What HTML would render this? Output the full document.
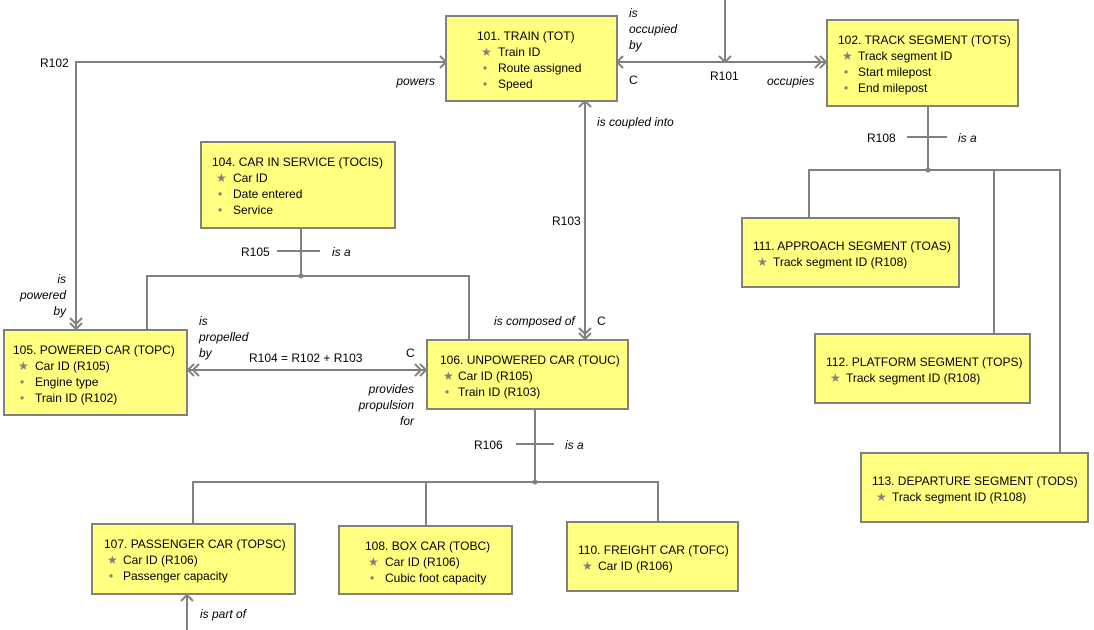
<!DOCTYPE html>
<html><head><meta charset="utf-8"><style>
html,body{margin:0;padding:0;background:#fff;}
svg{display:block;font-family:"Liberation Sans",sans-serif;font-size:12px;}
.b{fill:#ffff80;stroke:#808080;stroke-width:2;}
.l{stroke:#808080;stroke-width:2;fill:none;}
.i{font-style:italic;}
.s{fill:#808080;}
</style></head><body>
<svg width="1094" height="630" viewBox="0 0 1094 630" xmlns="http://www.w3.org/2000/svg">
<!-- connectors -->
<g class="l">
<!-- R102 -->
<polyline points="446,62 76,62 76,330"/>
<polyline points="440,56 446,62 440,68"/>
<polyline points="70,318 76,324 82,318"/><polyline points="70,323 76,329 82,323"/>
<!-- R101 -->
<line x1="725" y1="0" x2="725" y2="62"/>
<polyline points="719,56 725,62 731,56"/>
<line x1="617" y1="62" x2="827" y2="62"/>
<polyline points="623,56 617,62 623,68"/>
<polyline points="815,56 821,62 815,68"/><polyline points="820,56 826,62 820,68"/>
<!-- R103 -->
<line x1="585" y1="101" x2="585" y2="340"/>
<polyline points="579,107 585,101 591,107"/>
<polyline points="579,328 585,334 591,328"/><polyline points="579,333 585,339 591,333"/>
<!-- R104 -->
<line x1="187" y1="370" x2="427" y2="370"/>
<polyline points="199,364 193,370 199,376"/><polyline points="194,364 188,370 194,376"/>
<polyline points="415,364 421,370 415,376"/><polyline points="420,364 426,370 420,376"/>
<!-- R105 -->
<line x1="301" y1="228" x2="301" y2="276"/>
<line x1="277" y1="251" x2="320" y2="251"/>
<polyline points="147,330 147,276 469,276 469,340"/>
<!-- R106 -->
<line x1="535" y1="409" x2="535" y2="482"/>
<line x1="516" y1="444" x2="554" y2="444"/>
<polyline points="193,523 193,482 658,482 658,522"/>
<line x1="426" y1="482" x2="426" y2="526"/>
<!-- R108 -->
<line x1="928" y1="106" x2="928" y2="170"/>
<line x1="907" y1="137" x2="947" y2="137"/>
<polyline points="809,218 809,170 1060,170 1060,453"/>
<line x1="994" y1="170" x2="994" y2="334"/>
<!-- bottom -->
<line x1="187" y1="630" x2="187" y2="594"/>
<polyline points="181,601 187,595 193,601"/>
</g>
<circle class="s" cx="301" cy="276" r="2.5"/>
<circle class="s" cx="535" cy="482" r="2.5"/>
<circle class="s" cx="928" cy="170" r="2.5"/>

<!-- boxes -->
<rect class="b" x="446" y="16" width="171" height="85"/>
<rect class="b" x="827" y="20" width="191" height="86"/>
<rect class="b" x="201" y="142" width="194" height="86"/>
<rect class="b" x="4" y="330" width="183" height="85"/>
<rect class="b" x="427" y="340" width="201" height="69"/>
<rect class="b" x="92" y="524" width="203" height="70"/>
<rect class="b" x="339" y="526" width="173" height="68"/>
<rect class="b" x="567" y="522" width="171" height="69"/>
<rect class="b" x="742" y="218" width="217" height="69"/>
<rect class="b" x="815" y="334" width="215" height="69"/>
<rect class="b" x="861" y="453" width="227" height="69"/>

<g>
<text x="477" y="40">101. TRAIN (TOT)</text>
<text x="481" y="56" class="s">★</text><text x="498" y="56">Train ID</text>
<text x="483" y="72" class="s">•</text><text x="498" y="72">Route assigned</text>
<text x="483" y="88" class="s">•</text><text x="498" y="88">Speed</text>

<text x="838" y="44">102. TRACK SEGMENT (TOTS)</text>
<text x="842" y="60" class="s">★</text><text x="858" y="60">Track segment ID</text>
<text x="844" y="76" class="s">•</text><text x="858" y="76">Start milepost</text>
<text x="844" y="92" class="s">•</text><text x="858" y="92">End milepost</text>

<text x="212" y="166">104. CAR IN SERVICE (TOCIS)</text>
<text x="216" y="182" class="s">★</text><text x="233" y="182">Car ID</text>
<text x="218" y="198" class="s">•</text><text x="233" y="198">Date entered</text>
<text x="218" y="214" class="s">•</text><text x="233" y="214">Service</text>

<text x="13" y="354">105. POWERED CAR (TOPC)</text>
<text x="18" y="370" class="s">★</text><text x="35" y="370">Car ID (R105)</text>
<text x="20" y="386" class="s">•</text><text x="35" y="386">Engine type</text>
<text x="20" y="402" class="s">•</text><text x="35" y="402">Train ID (R102)</text>

<text x="440" y="364">106. UNPOWERED CAR (TOUC)</text>
<text x="443" y="380" class="s">★</text><text x="458" y="380">Car ID (R105)</text>
<text x="445" y="396" class="s">•</text><text x="458" y="396">Train ID (R103)</text>

<text x="104" y="548">107. PASSENGER CAR (TOPSC)</text>
<text x="107" y="564" class="s">★</text><text x="123" y="564">Car ID (R106)</text>
<text x="109" y="580" class="s">•</text><text x="123" y="580">Passenger capacity</text>

<text x="365" y="550">108. BOX CAR (TOBC)</text>
<text x="368" y="566" class="s">★</text><text x="385" y="566">Car ID (R106)</text>
<text x="370" y="582" class="s">•</text><text x="385" y="582">Cubic foot capacity</text>

<text x="578" y="554">110. FREIGHT CAR (TOFC)</text>
<text x="582" y="570" class="s">★</text><text x="598" y="570">Car ID (R106)</text>

<text x="753" y="250">111. APPROACH SEGMENT (TOAS)</text>
<text x="757" y="266" class="s">★</text><text x="773" y="266">Track segment ID (R108)</text>

<text x="826" y="366">112. PLATFORM SEGMENT (TOPS)</text>
<text x="830" y="382" class="s">★</text><text x="846" y="382">Track segment ID (R108)</text>

<text x="872" y="485">113. DEPARTURE SEGMENT (TODS)</text>
<text x="876" y="501" class="s">★</text><text x="892" y="501">Track segment ID (R108)</text>
</g>

<!-- labels -->
<g>
<text x="40" y="67">R102</text>
<text x="435" y="85" class="i" text-anchor="end">powers</text>
<text x="66" y="283" class="i" text-anchor="end">is</text>
<text x="66" y="299" class="i" text-anchor="end">powered</text>
<text x="66" y="315" class="i" text-anchor="end">by</text>
<text x="629" y="17" class="i">is</text>
<text x="629" y="33" class="i">occupied</text>
<text x="629" y="49" class="i">by</text>
<text x="629" y="84">C</text>
<text x="710" y="80">R101</text>
<text x="767" y="85" class="i">occupies</text>
<text x="597" y="126" class="i">is coupled into</text>
<text x="552" y="225">R103</text>
<text x="494" y="325" class="i">is composed of</text>
<text x="597" y="325">C</text>
<text x="241" y="256">R105</text>
<text x="332" y="256" class="i">is a</text>
<text x="199" y="325" class="i">is</text>
<text x="199" y="341" class="i">propelled</text>
<text x="199" y="357" class="i">by</text>
<text x="249" y="362">R104 = R102 + R103</text>
<text x="406" y="357">C</text>
<text x="414" y="393" class="i" text-anchor="end">provides</text>
<text x="414" y="409" class="i" text-anchor="end">propulsion</text>
<text x="414" y="425" class="i" text-anchor="end">for</text>
<text x="474" y="449">R106</text>
<text x="565" y="449" class="i">is a</text>
<text x="867" y="142">R108</text>
<text x="958" y="142" class="i">is a</text>
<text x="200" y="618" class="i">is part of</text>
</g>
</svg>
</body></html>
